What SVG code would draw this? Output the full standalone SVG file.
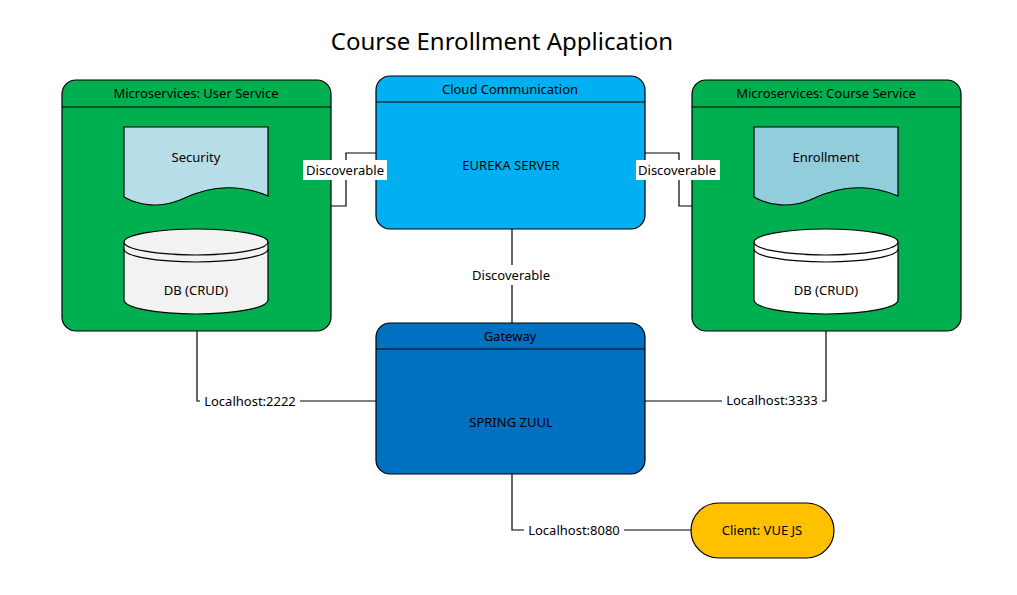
<svg xmlns="http://www.w3.org/2000/svg" width="1017" height="595" viewBox="0 0 1017 595">
<style>
text{font-family:"Noto Sans","Open Sans",sans-serif;font-size:13px;fill:#000;text-anchor:middle;dominant-baseline:central}
.b{stroke:#000;stroke-width:1.2}
.c{fill:none;stroke:#000;stroke-width:1.2}
.lb{fill:#fff}
</style>
<rect width="1017" height="595" fill="#fff"/>
<text x="502" y="40" style="font-size:24px">Course Enrollment Application</text>
<g id="connectors">
<polyline class="c" points="331,206 346,206 346,153 376,153"/>
<polyline class="c" points="645,153 679,153 679,206 692,206"/>
<line class="c" x1="512" y1="229" x2="512" y2="323"/>
<rect class="lb" x="469" y="265" width="86" height="20"/><text x="511" y="275">Discoverable</text>
<polyline class="c" points="197,331 197,401 376,401"/>
<rect class="lb" x="200" y="391" width="100" height="20"/><text x="250" y="401">Localhost:2222</text>
<polyline class="c" points="826,331 826,401 645,401"/>
<rect class="lb" x="722" y="390" width="100" height="20"/><text x="772" y="400">Localhost:3333</text>
<polyline class="c" points="512,474 512,530 691,530"/>
<rect class="lb" x="524" y="520" width="100" height="20"/><text x="574" y="530">Localhost:8080</text>
</g>
<g id="user-service">
<rect class="b" x="62" y="80" width="269" height="251" rx="14" fill="#00b050"/>
<line class="b" x1="62" y1="107" x2="331" y2="107"/>
<text x="196" y="93">Microservices: User Service</text>
</g>
<g id="security">
<path class="b" d="M124,127 H268 V196 C230,180 200,190 180,200 C160,208 140,206 124,197 Z" fill="#b7dde8"/>
<text x="196" y="157">Security</text>
</g>
<g id="db-user">
<path class="b" d="M124,242 V300 A72,14 0 0 0 268,300 V242" fill="#f2f2f2"/>
<ellipse class="b" cx="196" cy="242" rx="72" ry="13" fill="#f2f2f2"/>
<path class="c" d="M124,249 A72,13 0 0 0 268,249"/>
<text x="196" y="290">DB (CRUD)</text>
</g>
<g id="eureka">
<rect class="b" x="376" y="76" width="269" height="153" rx="14" fill="#00b0f0"/>
<line class="b" x1="376" y1="102" x2="645" y2="102"/>
<text x="510" y="89">Cloud Communication</text>
<text x="511" y="165">EUREKA SERVER</text>
</g>
<g id="course-service">
<rect class="b" x="692" y="80" width="269" height="251" rx="14" fill="#00b050"/>
<line class="b" x1="692" y1="107" x2="961" y2="107"/>
<text x="826" y="93">Microservices: Course Service</text>
</g>
<g id="enrollment">
<path class="b" d="M754,127 H898 V196 C860,180 830,190 810,200 C790,208 770,206 754,197 Z" fill="#92cddc"/>
<text x="826" y="157">Enrollment</text>
</g>
<g id="db-course">
<path class="b" d="M754,242 V300 A72,14 0 0 0 898,300 V242" fill="#fff"/>
<ellipse class="b" cx="826" cy="242" rx="72" ry="13" fill="#fff"/>
<path class="c" d="M754,249 A72,13 0 0 0 898,249"/>
<text x="826" y="290">DB (CRUD)</text>
</g>
<g id="gateway">
<rect class="b" x="376" y="323" width="269" height="151" rx="14" fill="#0070c0"/>
<line class="b" x1="376" y1="349" x2="645" y2="349"/>
<text x="510" y="336">Gateway</text>
<text x="511" y="422">SPRING ZUUL</text>
</g>
<g id="client">
<rect class="b" x="691" y="503" width="143" height="55" rx="27.5" fill="#ffc000"/>
<text x="762" y="530">Client: VUE JS</text>
</g>
<g id="connector-labels">
<rect class="lb" x="303" y="160" width="84" height="20"/><text x="345" y="170">Discoverable</text>
<rect class="lb" x="636" y="160" width="84" height="20"/><text x="677" y="170">Discoverable</text>
</g>
</svg>
